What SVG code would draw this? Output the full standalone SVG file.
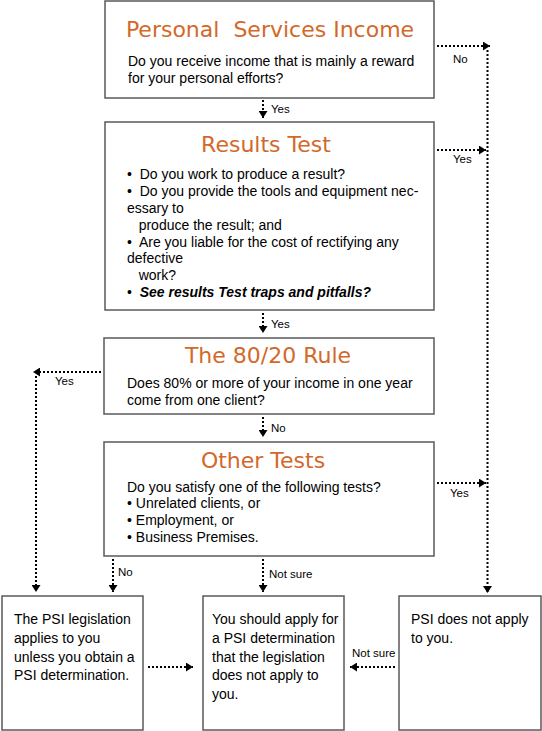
<svg xmlns="http://www.w3.org/2000/svg" width="542" height="731" viewBox="0 0 542 731">
<defs>
<style>
.box{fill:#fff;stroke:#5a5a5a;stroke-width:1.5}
.title{font-family:"DejaVu Sans",Verdana,sans-serif;font-size:22px;fill:#D2692A;text-anchor:middle}
.body{font-family:"Liberation Sans",Arial,sans-serif;font-size:14px;fill:#000;white-space:pre}
.bi{font-weight:bold;font-style:italic}
.lbl{font-family:"Liberation Sans",Arial,sans-serif;font-size:11.5px;fill:#000}
.con{fill:none;stroke:#000;stroke-width:2;stroke-dasharray:2 2;marker-end:url(#ah)}
</style>
<marker id="ah" markerUnits="userSpaceOnUse" markerWidth="8" markerHeight="9" refX="7" refY="4.5" orient="auto">
<path d="M0,0 L7,4.5 L0,9 z" fill="#000"/>
</marker>
</defs>
<rect width="542" height="731" fill="#fff"/>

<g id="psi-income">
<rect class="box" x="105" y="1" width="329" height="97"/>
<text class="title" x="270" y="37" xml:space="preserve">Personal  Services Income</text>
<text class="body" x="128" y="66">Do you receive income that is mainly a reward</text>
<text class="body" x="128" y="82.5">for your personal efforts?</text>
</g>

<g id="results-test">
<rect class="box" x="105" y="122" width="329" height="188"/>
<text class="title" x="266" y="152">Results Test</text>
<text class="body" x="127" y="179" xml:space="preserve">•  Do you work to produce a result?</text>
<text class="body" x="127" y="196" xml:space="preserve">•  Do you provide the tools and equipment nec-</text>
<text class="body" x="127" y="213">essary to</text>
<text class="body" x="127" y="229.5" xml:space="preserve">   produce the result; and</text>
<text class="body" x="127" y="246.5" xml:space="preserve">•  Are you liable for the cost of rectifying any</text>
<text class="body" x="127" y="263">defective</text>
<text class="body" x="127" y="279.5" xml:space="preserve">   work?</text>
<text class="body" x="127" y="296.5" xml:space="preserve">•  <tspan class="bi">See results Test traps and pitfalls?</tspan></text>
</g>

<g id="rule-80-20">
<rect class="box" x="104" y="338" width="330" height="76"/>
<text class="title" x="268" y="363">The 80/20 Rule</text>
<text class="body" x="127" y="388">Does 80% or more of your income in one year</text>
<text class="body" x="127" y="405">come from one client?</text>
</g>

<g id="other-tests">
<rect class="box" x="104" y="442" width="330" height="114"/>
<text class="title" x="263" y="468">Other Tests</text>
<text class="body" x="127" y="491.5">Do you satisfy one of the following tests?</text>
<text class="body" x="127" y="508">• Unrelated clients, or</text>
<text class="body" x="127" y="525">• Employment, or</text>
<text class="body" x="127" y="541.5">• Business Premises.</text>
</g>

<g id="psi-applies">
<rect class="box" x="2" y="596" width="141" height="134"/>
<text class="body" x="14" y="624">The PSI legislation</text>
<text class="body" x="14" y="643">applies to you</text>
<text class="body" x="14" y="661.5">unless you obtain a</text>
<text class="body" x="14" y="680">PSI determination.</text>
</g>

<g id="apply-determination">
<rect class="box" x="203" y="596" width="141" height="134"/>
<text class="body" x="212" y="624">You should apply for</text>
<text class="body" x="212" y="643">a PSI determination</text>
<text class="body" x="212" y="661.5">that the legislation</text>
<text class="body" x="212" y="680">does not apply to</text>
<text class="body" x="212" y="699">you.</text>
</g>

<g id="psi-not-apply">
<rect class="box" x="399" y="596" width="142" height="134"/>
<text class="body" x="411" y="624">PSI does not apply</text>
<text class="body" x="411" y="643">to you.</text>
</g>

<g id="connectors">
<path class="con" d="M263,100 V118"/>
<path class="con" d="M437,46 H490"/>
<path class="con" d="M487.5,50 V593"/>
<path class="con" d="M437,150 H486"/>
<path class="con" d="M263,313 V333"/>
<path class="con" d="M101,372 H33"/>
<path class="con" d="M36,376 V592"/>
<path class="con" d="M263,417 V437"/>
<path class="con" d="M437,483 H486"/>
<path class="con" d="M113,559 V592"/>
<path class="con" d="M263,559 V592"/>
<path class="con" d="M148,667 H193"/>
<path class="con" d="M395,667 H350"/>
<text class="lbl" x="271" y="113">Yes</text>
<text class="lbl" x="453" y="63">No</text>
<text class="lbl" x="453" y="163">Yes</text>
<text class="lbl" x="271" y="328">Yes</text>
<text class="lbl" x="55" y="385">Yes</text>
<text class="lbl" x="271" y="432">No</text>
<text class="lbl" x="450" y="497">Yes</text>
<text class="lbl" x="118" y="576">No</text>
<text class="lbl" x="269" y="578">Not sure</text>
<text class="lbl" x="352" y="657">Not sure</text>
</g>
</svg>
